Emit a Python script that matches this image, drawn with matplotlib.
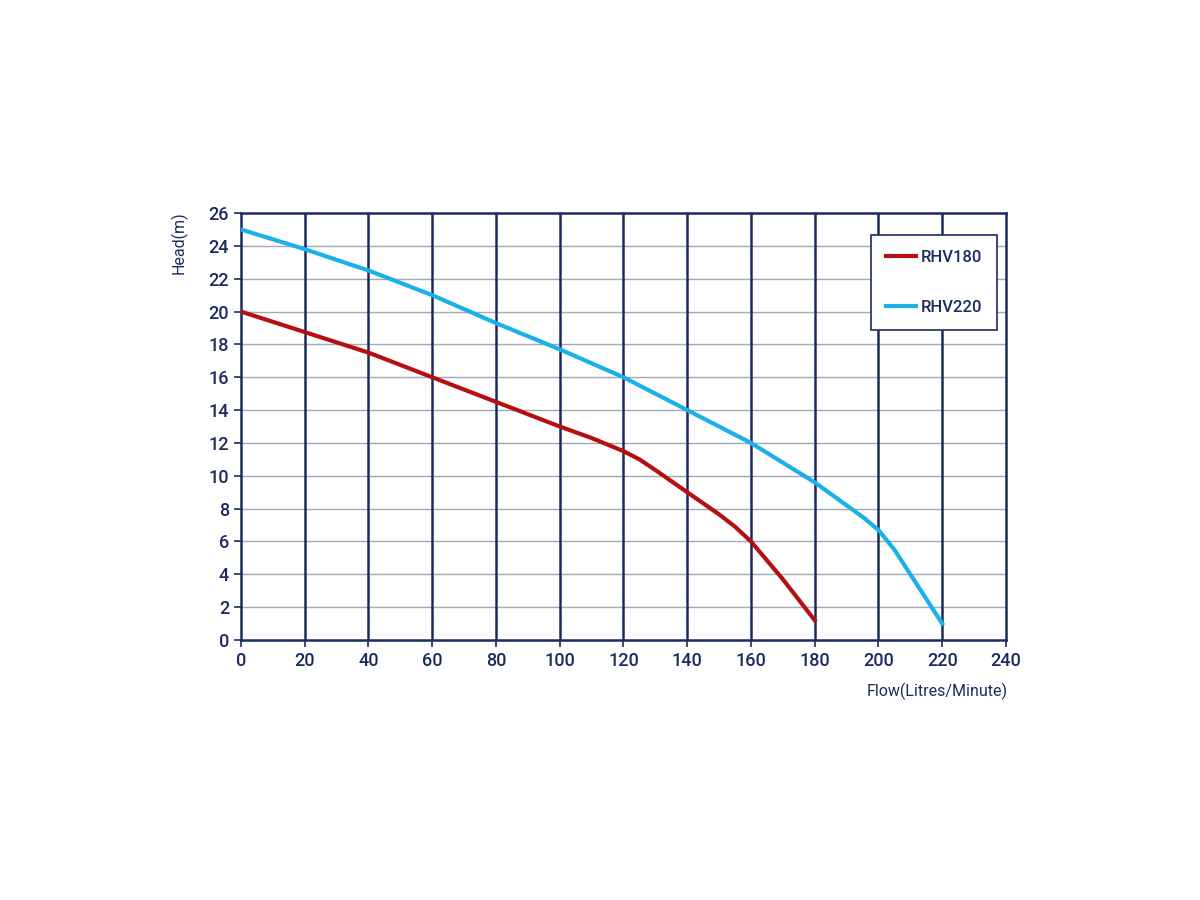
import matplotlib.pyplot as plt

# pump curves
flow_180 = [0, 20, 40, 60, 80, 100, 110, 120, 125, 130, 140, 150, 155, 160, 170, 180]
head_180 = [20, 18.75, 17.5, 16, 14.5, 13, 12.3, 11.5, 11.0, 10.35, 9, 7.65, 6.9, 6, 3.7, 1.2]

flow_220 = [0, 20, 40, 60, 80, 100, 120, 140, 160, 170, 180, 190, 195, 200, 205, 210, 220]
head_220 = [25, 23.8, 22.5, 21, 19.3, 17.7, 16, 14, 12, 10.8, 9.6, 8.2, 7.5, 6.7, 5.5, 4.0, 1.0]

x_ticks = list(range(0, 241, 20))
y_ticks = list(range(0, 27, 2))

navy = '#1b2b5e'
plt.rcParams['font.family'] = ['Roboto', 'DejaVu Sans']
plt.rcParams['font.weight'] = 'medium'

fig = plt.figure(figsize=(12, 9), dpi=100)
ax = fig.add_axes([0.2008, 0.2889, 0.6375, 0.4744])

# grid: heavy vertical, thin horizontal
for y in y_ticks[1:-1]:
    ax.axhline(y, color='#a3a8b8', lw=1.0, zorder=1)
for x in x_ticks[1:-1]:
    ax.axvline(x, color=navy, lw=1.8, zorder=1)

ax.plot(flow_180, head_180, color='#b50f12', lw=3.0, label='RHV180', zorder=3)
ax.plot(flow_220, head_220, color='#1bb0e8', lw=3.0, label='RHV220', zorder=3)

ax.set_xlim(0, 240)
ax.set_ylim(0, 26)
ax.set_xticks(x_ticks)
ax.set_yticks(y_ticks)
for s in ax.spines.values():
    s.set_color(navy)
    s.set_linewidth(1.8)
ax.tick_params(colors=navy, labelsize=13, length=5, width=1.2)

ax.set_ylabel('Head(m)', color=navy, fontsize=11.5)
ax.yaxis.set_label_coords(-0.07, 0.93)
ax.set_xlabel('Flow(Litres/Minute)', color=navy, fontsize=11.5, ha='right')
ax.xaxis.set_label_coords(1.002, -0.1)

leg = ax.legend(loc='upper right', bbox_to_anchor=(0.988, 0.948), fontsize=12,
                frameon=True, fancybox=False, handlelength=1.8,
                labelspacing=2.1, borderpad=0.9, handletextpad=0.25,
                borderaxespad=0, framealpha=1)
leg.get_frame().set_edgecolor(navy)
leg.get_frame().set_linewidth(1.2)
for t in leg.get_texts():
    t.set_color(navy)

plt.savefig('out.png', dpi=100)
